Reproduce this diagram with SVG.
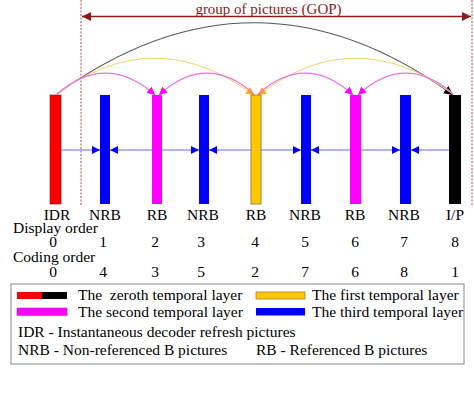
<svg xmlns="http://www.w3.org/2000/svg" width="474" height="399" viewBox="0 0 474 399" font-family="'Liberation Serif', Tinos, 'Times New Roman', 'DejaVu Serif', serif">
<style>
text{font-family:'Liberation Serif', Tinos, 'Times New Roman', 'DejaVu Serif', serif;font-size:15.5px;fill:#000}
.lbl{text-anchor:middle}
.gop{fill:#8b1a1a;text-anchor:middle;font-size:15px}
.dash{stroke:#c04848;stroke-width:1;stroke-dasharray:2,1.5;fill:none}
.mag{stroke:#f070f0;stroke-width:1.2;fill:none;marker-end:url(#mM)}
.yel{stroke:#f5d46a;stroke-width:1.2;fill:none;marker-end:url(#mY)}
.blk{stroke:#555;stroke-width:1.2;fill:none;marker-end:url(#mK)}
.blu{stroke:#9a9aff;stroke-width:1.5;fill:none;marker-end:url(#mB)}
</style>
<defs>
<marker id="mM" viewBox="0 0 10 10" refX="10" refY="5" markerWidth="8" markerHeight="8" markerUnits="userSpaceOnUse" orient="auto"><path d="M0,0L10,5L0,10z" fill="#ff00ff"/></marker>
<marker id="mY" viewBox="0 0 10 10" refX="10" refY="5" markerWidth="8" markerHeight="8" markerUnits="userSpaceOnUse" orient="auto"><path d="M0,0L10,5L0,10z" fill="#ffa800"/></marker>
<marker id="mK" viewBox="0 0 10 10" refX="10" refY="5" markerWidth="9" markerHeight="9" markerUnits="userSpaceOnUse" orient="auto"><path d="M0,0L10,5L0,10z" fill="#000"/></marker>
<marker id="mB" viewBox="0 0 10 10" refX="10" refY="5" markerWidth="8" markerHeight="8" markerUnits="userSpaceOnUse" orient="auto"><path d="M0,0L10,5L0,10z" fill="#0000ff"/></marker>
<marker id="mR" viewBox="0 0 10 10" refX="10" refY="5" markerWidth="9" markerHeight="9" markerUnits="userSpaceOnUse" orient="auto-start-reverse"><path d="M0,0L10,5L0,10z" fill="#8b1a1a"/></marker>
</defs>

<g id="gop">
<line class="dash" x1="81" y1="0" x2="81" y2="205"/>
<line class="dash" x1="472" y1="0" x2="472" y2="205"/>
<line x1="82" y1="16.5" x2="471" y2="16.5" stroke="#8b1a1a" stroke-width="1.5" marker-start="url(#mR)" marker-end="url(#mR)"/>
<text class="gop" x="268.5" y="13.5">group of pictures (GOP)</text>
</g>

<g id="connectors">
<line class="blu" x1="61" y1="150" x2="100" y2="150"/>
<line class="blu" x1="152" y1="150" x2="110" y2="150"/>
<line class="blu" x1="162" y1="150" x2="199" y2="150"/>
<line class="blu" x1="251" y1="150" x2="209" y2="150"/>
<line class="blu" x1="261" y1="150" x2="301" y2="150"/>
<line class="blu" x1="350" y1="150" x2="311" y2="150"/>
<line class="blu" x1="361" y1="150" x2="400" y2="150"/>
<line class="blu" x1="449" y1="150" x2="411" y2="150"/>
<path class="blk" d="M57,94 Q255,-49 453,95"/>
<path class="yel" d="M57,94 Q155,22 254,95"/>
<path class="yel" d="M453,94 Q355,22 258,95"/>
<path class="mag" d="M57,94 Q106,52 155,95"/>
<path class="mag" d="M254,94 Q206,52 159,95"/>
<path class="mag" d="M258,94 Q306,52 353,95"/>
<path class="mag" d="M453,94 Q405,52 358,95"/>
</g>

<g id="IDR"><rect x="50" y="95" width="11" height="109" fill="#ff0000" stroke="#900" stroke-width="0.6"/><text class="lbl" x="57" y="220">IDR</text><text class="lbl" x="53" y="247">0</text><text class="lbl" x="53" y="277">0</text></g>
<g id="NRB1"><rect x="100" y="95" width="10" height="109" fill="#0000ff"/><text class="lbl" x="105" y="220">NRB</text><text class="lbl" x="103" y="247">1</text><text class="lbl" x="103" y="277">4</text></g>
<g id="RB2"><rect x="152" y="95" width="10" height="109" fill="#ff00ff"/><text class="lbl" x="157" y="220">RB</text><text class="lbl" x="155" y="247">2</text><text class="lbl" x="155" y="277">3</text></g>
<g id="NRB3"><rect x="199" y="95" width="10" height="109" fill="#0000ff"/><text class="lbl" x="203" y="220">NRB</text><text class="lbl" x="201" y="247">3</text><text class="lbl" x="201" y="277">5</text></g>
<g id="RB4"><rect x="251" y="95" width="10" height="109" fill="#ffc800" stroke="#8a7020" stroke-width="0.8"/><text class="lbl" x="256" y="220">RB</text><text class="lbl" x="255" y="247">4</text><text class="lbl" x="255" y="277">2</text></g>
<g id="NRB5"><rect x="301" y="95" width="10" height="109" fill="#0000ff"/><text class="lbl" x="305" y="220">NRB</text><text class="lbl" x="305" y="247">5</text><text class="lbl" x="305" y="277">7</text></g>
<g id="RB6"><rect x="350" y="95" width="11" height="109" fill="#ff00ff"/><text class="lbl" x="355" y="220">RB</text><text class="lbl" x="355" y="247">6</text><text class="lbl" x="355" y="277">6</text></g>
<g id="NRB7"><rect x="400" y="95" width="11" height="109" fill="#0000ff"/><text class="lbl" x="404" y="220">NRB</text><text class="lbl" x="404" y="247">7</text><text class="lbl" x="404" y="277">8</text></g>
<g id="IP"><rect x="449" y="95" width="12" height="109" fill="#000"/><text class="lbl" x="455" y="220">I/P</text><text class="lbl" x="455" y="247">8</text><text class="lbl" x="455" y="277">1</text></g>

<g id="rowlabels">
<text x="13" y="233">Display order</text>
<text x="13" y="262">Coding order</text>
</g>

<g id="legend">
<rect x="11" y="284" width="453" height="80" fill="#fff" stroke="#888" stroke-width="1"/>
<rect x="17" y="292" width="25" height="7" fill="#ff0000"/>
<rect x="42" y="292" width="25" height="7" fill="#000"/>
<rect x="17" y="308" width="50" height="7.5" fill="#ff00ff" stroke="#b030b0" stroke-width="0.6"/>
<rect x="256" y="292" width="49" height="7" fill="#ffc800" stroke="#a08020" stroke-width="0.8"/>
<rect x="256" y="308" width="49" height="7.5" fill="#0000ff"/>
<text x="78" y="300" xml:space="preserve">The  zeroth temporal layer</text>
<text x="78" y="317">The second temporal layer</text>
<text x="312" y="300">The first temporal layer</text>
<text x="312" y="317">The third temporal layer</text>
<text x="18" y="337">IDR - Instantaneous decoder refresh pictures</text>
<text x="18" y="355">NRB - Non-referenced B pictures</text>
<text x="256" y="355">RB - Referenced B pictures</text>
</g>
</svg>
